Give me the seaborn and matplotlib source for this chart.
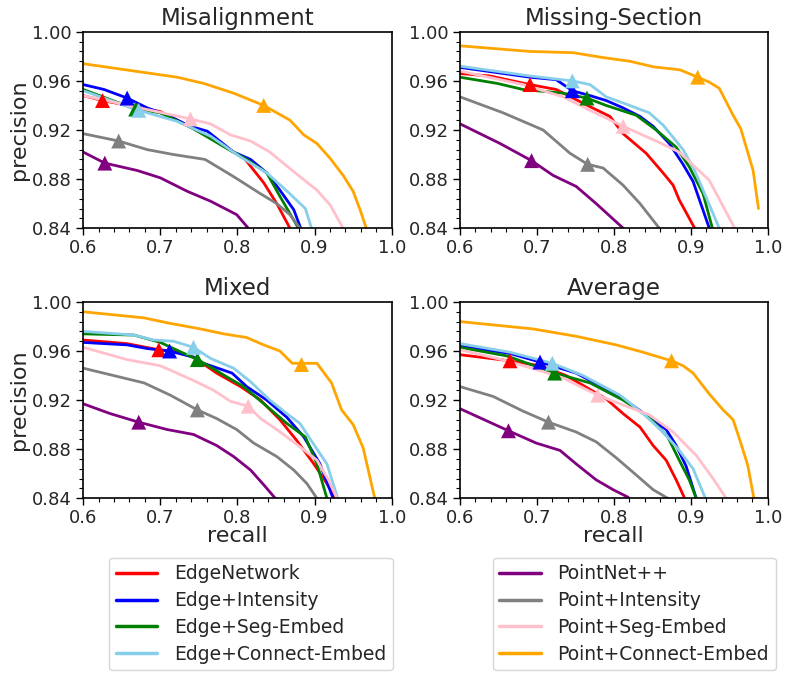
import pandas as pd
import seaborn as sns
import matplotlib.pyplot as plt
from matplotlib.lines import Line2D
from matplotlib.ticker import MultipleLocator, FormatStrFormatter

# methods and colours
methods = ['EdgeNetwork', 'Edge+Intensity', 'Edge+Seg-Embed', 'Edge+Connect-Embed',
           'PointNet++', 'Point+Intensity', 'Point+Seg-Embed', 'Point+Connect-Embed']
colors = ['red', 'blue', 'green', 'skyblue', 'purple', 'gray', 'pink', 'orange']
panel_titles = ['Misalignment', 'Missing-Section', 'Mixed', 'Average']

# ---- PR curves: method -> (recall, precision) ----
misalign = {
    'EdgeNetwork': ([0.6, 0.625, 0.700, 0.743, 0.778, 0.810, 0.834, 0.851, 0.868],
                    [0.948, 0.944, 0.935, 0.921, 0.909, 0.896, 0.877, 0.860, 0.84]),
    'Edge+Intensity': ([0.6, 0.627, 0.657, 0.683, 0.709, 0.739, 0.761, 0.795, 0.817, 0.838, 0.855, 0.873, 0.882],
                       [0.957, 0.953, 0.946, 0.938, 0.932, 0.923, 0.919, 0.902, 0.896, 0.885, 0.871, 0.855, 0.84]),
    'Edge+Seg-Embed': ([0.6, 0.668, 0.700, 0.743, 0.786, 0.812, 0.838, 0.855, 0.879],
                       [0.953, 0.937, 0.934, 0.921, 0.905, 0.896, 0.885, 0.866, 0.84]),
    'Edge+Connect-Embed': ([0.6, 0.672, 0.722, 0.765, 0.804, 0.838, 0.868, 0.888, 0.896],
                           [0.952, 0.936, 0.927, 0.915, 0.898, 0.885, 0.868, 0.856, 0.84]),
    'PointNet++': ([0.6, 0.628, 0.670, 0.700, 0.735, 0.765, 0.799, 0.814],
                   [0.902, 0.893, 0.887, 0.881, 0.870, 0.862, 0.851, 0.84]),
    'Point+Intensity': ([0.6, 0.646, 0.683, 0.717, 0.758, 0.795, 0.830, 0.851, 0.868, 0.881],
                        [0.917, 0.911, 0.904, 0.900, 0.896, 0.882, 0.868, 0.860, 0.851, 0.84]),
    'Point+Seg-Embed': ([0.6, 0.739, 0.765, 0.791, 0.817, 0.842, 0.873, 0.903, 0.920, 0.937],
                        [0.948, 0.929, 0.925, 0.916, 0.911, 0.902, 0.886, 0.871, 0.859, 0.84]),
    'Point+Connect-Embed': ([0.6, 0.722, 0.756, 0.795, 0.834, 0.868, 0.886, 0.903, 0.920, 0.937, 0.950, 0.959, 0.967],
                            [0.974, 0.963, 0.958, 0.950, 0.940, 0.928, 0.916, 0.909, 0.897, 0.883, 0.870, 0.855, 0.84]),
}
missing = {
    'EdgeNetwork': ([0.6, 0.639, 0.691, 0.725, 0.769, 0.795, 0.812, 0.842, 0.864, 0.877, 0.885, 0.905],
                    [0.966, 0.964, 0.957, 0.953, 0.939, 0.931, 0.917, 0.901, 0.885, 0.875, 0.863, 0.84]),
    'Edge+Intensity': ([0.6, 0.691, 0.725, 0.746, 0.769, 0.790, 0.812, 0.834, 0.851, 0.872, 0.890, 0.903, 0.924],
                       [0.971, 0.963, 0.961, 0.952, 0.948, 0.944, 0.938, 0.931, 0.923, 0.909, 0.892, 0.878, 0.84]),
    'Edge+Seg-Embed': ([0.6, 0.648, 0.682, 0.734, 0.765, 0.790, 0.829, 0.855, 0.881, 0.898, 0.916, 0.928],
                       [0.963, 0.958, 0.953, 0.950, 0.946, 0.940, 0.932, 0.920, 0.906, 0.890, 0.868, 0.84]),
    'Edge+Connect-Embed': ([0.6, 0.691, 0.746, 0.769, 0.790, 0.812, 0.846, 0.864, 0.890, 0.905, 0.918, 0.937],
                           [0.972, 0.964, 0.960, 0.957, 0.947, 0.942, 0.934, 0.924, 0.904, 0.887, 0.868, 0.84]),
    'PointNet++': ([0.6, 0.652, 0.693, 0.721, 0.751, 0.777, 0.812],
                   [0.925, 0.909, 0.895, 0.883, 0.874, 0.860, 0.84]),
    'Point+Intensity': ([0.6, 0.656, 0.708, 0.743, 0.766, 0.786, 0.812, 0.834, 0.859],
                        [0.947, 0.934, 0.920, 0.901, 0.892, 0.889, 0.875, 0.860, 0.84]),
    'Point+Seg-Embed': ([0.6, 0.682, 0.734, 0.769, 0.812, 0.855, 0.885, 0.924, 0.957],
                        [0.968, 0.957, 0.947, 0.936, 0.923, 0.911, 0.902, 0.879, 0.84]),
    'Point+Connect-Embed': ([0.6, 0.691, 0.747, 0.786, 0.821, 0.851, 0.886, 0.909, 0.924, 0.937, 0.955, 0.965, 0.981, 0.988],
                            [0.9886, 0.984, 0.983, 0.979, 0.976, 0.9715, 0.969, 0.963, 0.959, 0.954, 0.932, 0.921, 0.887, 0.856]),
}
mixed = {
    'EdgeNetwork': ([0.6, 0.657, 0.698, 0.717, 0.743, 0.773, 0.804, 0.830, 0.855, 0.877, 0.899, 0.916, 0.927],
                    [0.969, 0.966, 0.961, 0.960, 0.955, 0.942, 0.931, 0.920, 0.904, 0.887, 0.868, 0.852, 0.84]),
    'Edge+Intensity': ([0.6, 0.657, 0.683, 0.712, 0.743, 0.756, 0.793, 0.812, 0.838, 0.864, 0.886, 0.907, 0.924],
                       [0.967, 0.965, 0.962, 0.960, 0.955, 0.950, 0.942, 0.931, 0.920, 0.906, 0.890, 0.868, 0.84]),
    'Edge+Seg-Embed': ([0.6, 0.666, 0.700, 0.748, 0.765, 0.786, 0.808, 0.838, 0.864, 0.888, 0.903, 0.916],
                       [0.974, 0.973, 0.967, 0.953, 0.947, 0.939, 0.931, 0.915, 0.901, 0.890, 0.868, 0.84]),
    'Edge+Connect-Embed': ([0.6, 0.666, 0.691, 0.717, 0.743, 0.765, 0.795, 0.817, 0.842, 0.864, 0.881, 0.901, 0.916, 0.930],
                           [0.976, 0.973, 0.969, 0.968, 0.963, 0.954, 0.946, 0.935, 0.920, 0.909, 0.901, 0.882, 0.868, 0.84]),
    'PointNet++': ([0.6, 0.635, 0.672, 0.709, 0.743, 0.773, 0.795, 0.817, 0.834, 0.849],
                   [0.917, 0.909, 0.902, 0.896, 0.892, 0.883, 0.874, 0.863, 0.851, 0.84]),
    'Point+Intensity': ([0.6, 0.679, 0.713, 0.748, 0.773, 0.799, 0.821, 0.851, 0.873, 0.890, 0.903],
                        [0.946, 0.934, 0.924, 0.912, 0.905, 0.896, 0.885, 0.874, 0.863, 0.852, 0.84]),
    'Point+Seg-Embed': ([0.6, 0.657, 0.700, 0.743, 0.769, 0.791, 0.814, 0.830, 0.851, 0.881, 0.903, 0.918, 0.929],
                        [0.963, 0.953, 0.948, 0.936, 0.928, 0.919, 0.915, 0.905, 0.896, 0.882, 0.871, 0.855, 0.84]),
    'Point+Connect-Embed': ([0.6, 0.679, 0.709, 0.752, 0.782, 0.812, 0.834, 0.855, 0.871, 0.883, 0.903, 0.922, 0.935, 0.950, 0.963, 0.978],
                            [0.992, 0.987, 0.983, 0.978, 0.974, 0.971, 0.965, 0.960, 0.950, 0.950, 0.950, 0.934, 0.912, 0.900, 0.881, 0.84]),
}
average = {
    'EdgeNetwork': ([0.6, 0.665, 0.704, 0.738, 0.790, 0.812, 0.834, 0.851, 0.868, 0.881, 0.892],
                    [0.957, 0.952, 0.948, 0.940, 0.921, 0.909, 0.898, 0.883, 0.871, 0.855, 0.84]),
    'Edge+Intensity': ([0.6, 0.665, 0.704, 0.751, 0.808, 0.846, 0.868, 0.881, 0.894, 0.907],
                       [0.964, 0.958, 0.951, 0.942, 0.923, 0.906, 0.896, 0.883, 0.866, 0.84]),
    'Edge+Seg-Embed': ([0.6, 0.661, 0.723, 0.769, 0.812, 0.846, 0.870, 0.885, 0.898, 0.907],
                       [0.963, 0.956, 0.942, 0.934, 0.920, 0.906, 0.890, 0.871, 0.855, 0.84]),
    'Edge+Connect-Embed': ([0.6, 0.665, 0.720, 0.760, 0.808, 0.838, 0.864, 0.885, 0.903, 0.919],
                           [0.966, 0.959, 0.950, 0.940, 0.924, 0.909, 0.894, 0.879, 0.864, 0.84]),
    'PointNet++': ([0.6, 0.663, 0.699, 0.730, 0.751, 0.777, 0.799, 0.818, 0.820],
                   [0.913, 0.895, 0.885, 0.879, 0.868, 0.855, 0.847, 0.841, 0.84]),
    'Point+Intensity': ([0.6, 0.643, 0.682, 0.715, 0.751, 0.777, 0.803, 0.829, 0.851, 0.870],
                        [0.931, 0.923, 0.911, 0.902, 0.894, 0.886, 0.873, 0.859, 0.847, 0.84]),
    'Point+Seg-Embed': ([0.6, 0.661, 0.704, 0.734, 0.779, 0.812, 0.846, 0.877, 0.907, 0.929, 0.946],
                        [0.961, 0.952, 0.944, 0.938, 0.924, 0.916, 0.908, 0.894, 0.875, 0.856, 0.84]),
    'Point+Connect-Embed': ([0.6, 0.695, 0.751, 0.803, 0.838, 0.875, 0.890, 0.903, 0.924, 0.942, 0.955, 0.965, 0.974, 0.982],
                            [0.984, 0.978, 0.972, 0.965, 0.959, 0.952, 0.948, 0.942, 0.925, 0.912, 0.904, 0.885, 0.867, 0.84]),
}

# ---- triangle markers (operating points): method -> (recall, precision) ----
misalign_pts = {'EdgeNetwork': (0.625, 0.944), 'Edge+Intensity': (0.657, 0.946),
                'Edge+Seg-Embed': (0.668, 0.937), 'Edge+Connect-Embed': (0.672, 0.936),
                'PointNet++': (0.628, 0.893), 'Point+Intensity': (0.646, 0.911),
                'Point+Seg-Embed': (0.739, 0.929), 'Point+Connect-Embed': (0.834, 0.940)}
missing_pts = {'EdgeNetwork': (0.691, 0.957), 'Edge+Intensity': (0.746, 0.952),
               'Edge+Seg-Embed': (0.765, 0.946), 'Edge+Connect-Embed': (0.746, 0.960),
               'PointNet++': (0.693, 0.895), 'Point+Intensity': (0.766, 0.892),
               'Point+Seg-Embed': (0.812, 0.923), 'Point+Connect-Embed': (0.909, 0.963)}
mixed_pts = {'EdgeNetwork': (0.698, 0.961), 'Edge+Intensity': (0.712, 0.960),
             'Edge+Seg-Embed': (0.748, 0.953), 'Edge+Connect-Embed': (0.743, 0.963),
             'PointNet++': (0.672, 0.902), 'Point+Intensity': (0.748, 0.912),
             'Point+Seg-Embed': (0.814, 0.915), 'Point+Connect-Embed': (0.883, 0.949)}
average_pts = {'EdgeNetwork': (0.665, 0.952), 'Edge+Intensity': (0.704, 0.951),
               'Edge+Seg-Embed': (0.723, 0.942), 'Edge+Connect-Embed': (0.720, 0.950),
               'PointNet++': (0.663, 0.895), 'Point+Intensity': (0.715, 0.902),
               'Point+Seg-Embed': (0.779, 0.924), 'Point+Connect-Embed': (0.875, 0.952)}

curves = [misalign, missing, mixed, average]
points = [misalign_pts, missing_pts, mixed_pts, average_pts]

sns.set_style('ticks')
plt.rcParams['font.family'] = ['DejaVu Sans']
palette = dict(zip(methods, colors))

fig = plt.figure(figsize=(7.85, 6.77), dpi=100)
# axes positions (left, bottom, width, height) in figure fraction
boxes = [(0.106, 0.663, 0.393, 0.290), (0.586, 0.663, 0.392, 0.290),
         (0.106, 0.264, 0.393, 0.290), (0.586, 0.264, 0.392, 0.290)]

for i, (title, data, pts) in enumerate(zip(panel_titles, curves, points)):
    ax = fig.add_axes(boxes[i])
    rows = []
    for m in methods:
        r, p = data[m]
        for rr, pp in zip(r, p):
            rows.append({'method': m, 'recall': rr, 'precision': pp})
    df = pd.DataFrame(rows)
    sns.lineplot(data=df, x='recall', y='precision', hue='method', hue_order=methods,
                 palette=palette, estimator=None, sort=False, lw=2.0, legend=False, ax=ax)
    pt_df = pd.DataFrame({'method': methods,
                          'recall': [pts[m][0] for m in methods],
                          'precision': [pts[m][1] for m in methods]})
    sns.scatterplot(data=pt_df, x='recall', y='precision', hue='method', hue_order=methods,
                    palette=palette, marker='^', s=115, linewidth=0, legend=False,
                    ax=ax, zorder=5, clip_on=False)

    ax.set_xlim(0.6, 1.0)
    ax.set_ylim(0.84, 1.0)
    ax.xaxis.set_major_locator(MultipleLocator(0.1))
    ax.xaxis.set_minor_locator(MultipleLocator(0.02))
    ax.yaxis.set_major_locator(MultipleLocator(0.04))
    ax.yaxis.set_minor_locator(MultipleLocator(0.008))
    ax.xaxis.set_major_formatter(FormatStrFormatter('%.1f'))
    ax.yaxis.set_major_formatter(FormatStrFormatter('%.2f'))
    ax.tick_params(axis='both', which='major', labelsize=13, length=5, width=1, color='black', pad=3)
    ax.tick_params(axis='both', which='minor', length=3, width=0.8, color='black')
    for s in ax.spines.values():
        s.set_visible(True)
        s.set_color('black')
        s.set_linewidth(1.2)
    ax.set_title(title, fontsize=16.5, pad=5)
    ax.set_xlabel('recall' if i >= 2 else '', fontsize=16, labelpad=-1)
    ax.set_ylabel('precision' if i % 2 == 0 else '', fontsize=16, labelpad=2)

# two legends below the panels
handles = [Line2D([0], [0], color=c, lw=2.5) for c in colors]
leg1 = fig.legend(handles[:4], methods[:4], loc='upper center', bbox_to_anchor=(0.320, 0.19),
                  fontsize=13.5, frameon=True, handlelength=2.2, borderpad=0.35, labelspacing=0.42,
                  handletextpad=0.9)
leg2 = fig.legend(handles[4:], methods[4:], loc='upper center', bbox_to_anchor=(0.808, 0.19),
                  fontsize=13.5, frameon=True, handlelength=2.2, borderpad=0.35, labelspacing=0.42,
                  handletextpad=0.9)

plt.savefig('out.png', dpi=100)
